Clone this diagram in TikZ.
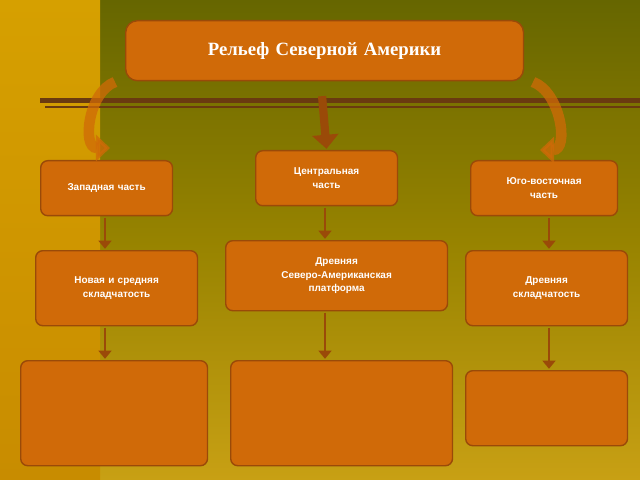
\documentclass[tikz,border=0pt]{standalone}
\usepackage{fontspec}
\setmainfont{Liberation Serif}
\setsansfont{Liberation Sans}
\usetikzlibrary{arrows.meta}
\definecolor{boxfill}{HTML}{D06A08}
\definecolor{boxline}{HTML}{9A4A08}
\definecolor{bartone}{HTML}{6A3A10}
\tikzset{
  part/.style={draw=boxline, line width=1.2pt, fill=boxfill, rounded corners=6pt,
    font=\sffamily\bfseries\fontsize{8.5}{11.5}\selectfont, text=white, align=center, anchor=north west},
  down/.style={draw=boxline, fill=boxfill, line width=2.5pt, -{Triangle[length=7pt,width=11pt]}, shorten <=1pt, shorten >=1pt},
  curvearrow/.style={draw=boxfill, opacity=0.75, line width=9pt, -{Triangle[length=12pt,width=22pt]}}
}
\begin{document}
\begin{tikzpicture}[x=0.03cm, y=-0.03cm]
    \useasboundingbox (0,0) rectangle (640,480);
    % background
    \shade[top color=olive!60!gray!80!black, bottom color={rgb,255:red,200;green,160;blue,20}] (0,0) rectangle (640,480);
    \shade[top color={rgb,255:red,214;green,160;blue,0}, bottom color={rgb,255:red,200;green,140;blue,0}] (0,0) rectangle (100,480);
    \fill[bartone] (40,98) rectangle (640,103);
    \fill[bartone] (45,106) rectangle (640,108);
    % title
    \node[part, text width=390*0.03cm, minimum height=60*0.03cm,
      font=\bfseries\fontsize{16}{18}\selectfont, rounded corners=10pt] (title) at (125,20) {Рельеф Северной Америки};
    % first row
    \node[part, text width=124*0.03cm, minimum height=55*0.03cm] (west) at (40,160) {Западная часть};
    \node[part, text width=134*0.03cm, minimum height=55*0.03cm] (center) at (255,150) {Центральная\\часть};
    \node[part, text width=139*0.03cm, minimum height=55*0.03cm] (east) at (470,160) {Юго-восточная\\часть};
    % second row
    \node[part, text width=154*0.03cm, minimum height=75*0.03cm] (fold) at (35,250) {Новая и средняя\\складчатость};
    \node[part, text width=214*0.03cm, minimum height=70*0.03cm] (platform) at (225,240) {Древняя\\Северо-Американская\\платформа};
    \node[part, text width=154*0.03cm, minimum height=75*0.03cm] (oldfold) at (465,250) {Древняя\\складчатость};
    % third row
    \node[part, text width=179*0.03cm, minimum height=105*0.03cm] (westempty) at (20,360) {};
    \node[part, text width=214*0.03cm, minimum height=105*0.03cm] (centerempty) at (230,360) {};
    \node[part, text width=154*0.03cm, minimum height=75*0.03cm] (eastempty) at (465,370) {};
    % arrows
    \coordinate (lstart) at (115,82);
    \coordinate (rstart) at (533,82);
    \draw[curvearrow] (lstart) to[out=200, in=180, looseness=1.1] (110,148);
    \draw[curvearrow] (rstart) to[out=-20, in=0, looseness=1.1] (540,150);
    \draw[down, line width=7pt, -{Triangle[length=12pt,width=22pt]}] (322,95) -- (center.north);
    \draw[down] (west.south -| 105,0) -- (fold.north -| 105,0);
    \draw[down] (center.south -| 325,0) -- (platform.north -| 325,0);
    \draw[down] (east.south -| 549,0) -- (oldfold.north -| 549,0);
    \draw[down] (fold.south -| 105,0) -- (westempty.north -| 105,0);
    \draw[down] (platform.south -| 325,0) -- (centerempty.north -| 325,0);
    \draw[down] (oldfold.south -| 549,0) -- (eastempty.north -| 549,0);
\end{tikzpicture}
\end{document}
